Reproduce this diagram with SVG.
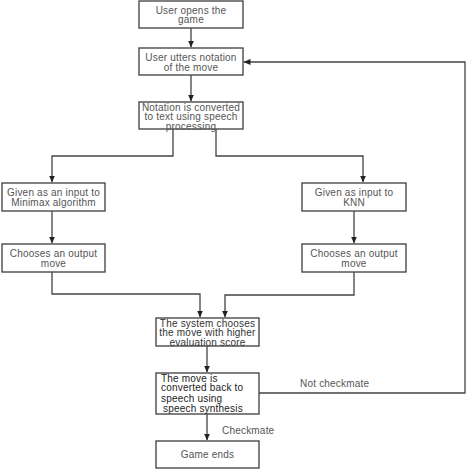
<svg xmlns="http://www.w3.org/2000/svg" width="474" height="470" viewBox="0 0 474 470">
<style>
.box{fill:#fff;stroke:#4a4a4a;stroke-width:1.4}
.t{font-family:"Liberation Sans",Arial,sans-serif;font-size:10px;fill:#555;text-anchor:middle;letter-spacing:0.2px}
.d{fill:#333}
.l{fill:#222;text-anchor:start}
.c{fill:none;stroke:#444;stroke-width:1.3}
</style>
<defs>
<marker id="a" markerWidth="7" markerHeight="6" refX="6.5" refY="3" orient="auto" markerUnits="userSpaceOnUse">
<path d="M0,0 L7,3 L0,6 Z" fill="#222"/>
</marker>
</defs>
<rect width="474" height="470" fill="#fff"/>
<g id="connectors" class="c">
<line x1="191" y1="28" x2="191" y2="47" marker-end="url(#a)"/>
<line x1="191" y1="75" x2="191" y2="101" marker-end="url(#a)"/>
<polyline points="173,129 173,156 52,156 52,182" marker-end="url(#a)"/>
<polyline points="216,129 216,156 363,156 363,182" marker-end="url(#a)"/>
<line x1="52" y1="211" x2="52" y2="243" marker-end="url(#a)"/>
<line x1="354" y1="211" x2="354" y2="243" marker-end="url(#a)"/>
<polyline points="52,272 52,294 200,294 200,317" marker-end="url(#a)"/>
<polyline points="354,272 354,295 225,295 225,317" marker-end="url(#a)"/>
<line x1="207" y1="346" x2="207" y2="372" marker-end="url(#a)"/>
<line x1="207" y1="414" x2="207" y2="440" marker-end="url(#a)"/>
<polyline points="259,393 465,393 465,62 244,62" marker-end="url(#a)"/>
</g>
<g id="n1"><rect class="box" x="139" y="1" width="104" height="27"/>
<text class="t" x="191" y="13.5">User opens the</text><text class="t" x="191" y="23">game</text></g>
<g id="n2"><rect class="box" x="139" y="48" width="104" height="27"/>
<text class="t" x="191" y="60.5">User utters notation</text><text class="t" x="191" y="70.5">of the move</text></g>
<g id="n3"><rect class="box" x="139" y="102" width="104" height="27"/>
<text class="t" x="191" y="110.5">Notation is converted</text><text class="t" x="191" y="120">to text using speech</text><text class="t" x="191" y="129.5">processing</text></g>
<g id="n4"><rect class="box" x="2" y="183" width="103" height="28"/>
<text class="t" x="53.5" y="195.5">Given as an input to</text><text class="t" x="53.5" y="205.5">Minimax algorithm</text></g>
<g id="n5"><rect class="box" x="302" y="183" width="104" height="28"/>
<text class="t" x="354" y="195.5">Given as input to</text><text class="t" x="354" y="205.5">KNN</text></g>
<g id="n6"><rect class="box" x="2" y="244" width="103" height="28"/>
<text class="t" x="53.5" y="256.5">Chooses an output</text><text class="t" x="53.5" y="266.5">move</text></g>
<g id="n7"><rect class="box" x="302" y="244" width="104" height="28"/>
<text class="t" x="354" y="256.5">Chooses an output</text><text class="t" x="354" y="266.5">move</text></g>
<g id="n8"><rect class="box" x="156" y="318" width="103" height="28"/>
<text class="t d" x="207.5" y="326.5">The system chooses</text><text class="t d" x="207.5" y="336">the move with higher</text><text class="t d" x="207.5" y="345.5">evaluation score</text></g>
<g id="n9"><rect class="box" x="156" y="373" width="103" height="41"/>
<text class="t l" x="161" y="381.5">The move is</text><text class="t l" x="161" y="391">converted back to</text><text class="t l" x="161" y="401.5">speech using</text><text class="t l" x="163" y="411.5">speech synthesis</text></g>
<g id="n10"><rect class="box" x="156" y="441" width="103" height="27"/>
<text class="t" x="207.5" y="457.5">Game ends</text></g>
<g id="labels">
<text class="t" x="222" y="433.5" style="text-anchor:start">Checkmate</text>
<text class="t" x="300" y="386.5" style="text-anchor:start">Not checkmate</text>
</g>
</svg>
